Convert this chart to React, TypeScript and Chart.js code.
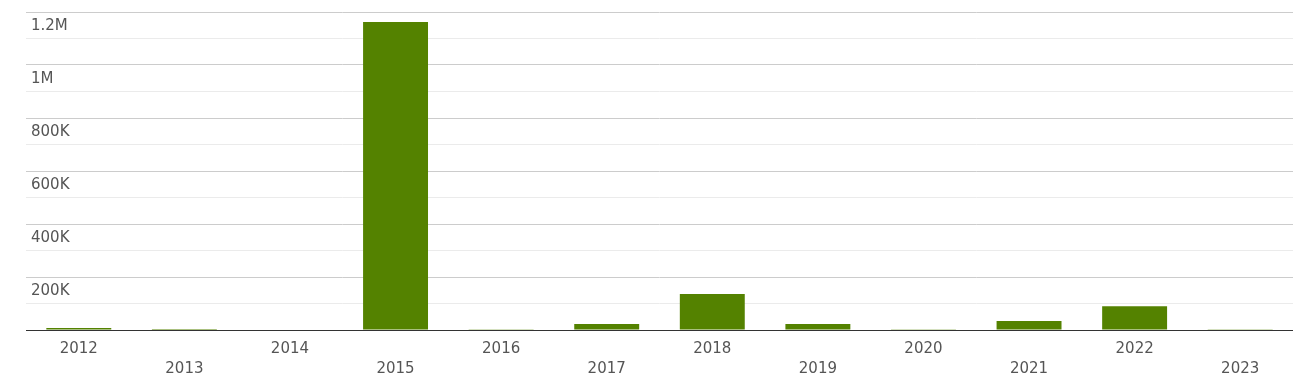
import React, { useEffect, useRef } from "react";
import { Chart, registerables } from "chart.js";

Chart.register(...registerables);

const years = ["2012", "2013", "2014", "2015", "2016", "2017", "2018", "2019", "2020", "2021", "2022", "2023"];
const values = [8000, 4000, 0, 1162000, 3000, 23000, 136000, 23000, 3000, 34000, 90000, 3000];
const yMax = 1200000;
const yStep = 100000;

function formatTick(v: number): string {
  if (v >= 1000000) return (v / 1000000).toString() + "M";
  if (v >= 1000) return (v / 1000).toString() + "K";
  return String(v);
}

export default function App() {
  const ref = useRef<HTMLCanvasElement>(null);
  useEffect(() => {
    if (!ref.current) return;
    const chart = new Chart(ref.current, {
      type: "bar",
      data: {
        labels: years,
        datasets: [
          {
            data: values,
            backgroundColor: "#548200",
            borderWidth: 0,
            categoryPercentage: 1,
            barPercentage: 0.615,
          },
        ],
      },
      options: {
        animation: false,
        responsive: true,
        maintainAspectRatio: false,
        layout: { padding: { left: 26, top: 12, right: 0, bottom: 0 } },
        plugins: { legend: { display: false }, tooltip: { enabled: false } },
        scales: {
          x: {
            grid: { display: false, drawTicks: false },
            border: { display: true, color: "#333", width: 1 },
            ticks: {
              autoSkip: false,
              maxRotation: 0,
              minRotation: 0,
              padding: 9,
              color: "#555",
              font: { family: "DejaVu Sans", size: 15, lineHeight: 20 / 15 },
              callback: (_v: any, i: number) => (i % 2 === 0 ? [years[i]] : ["", years[i]]),
            },
            afterFit: (scale: any) => {
              scale.height = 54;
              scale.paddingLeft = 0;
              scale.paddingRight = 0;
            },
          },
          y: {
            min: 0,
            max: yMax,
            grid: {
              drawTicks: false,
              color: (ctx: any) => {
                const v = ctx.tick ? ctx.tick.value : 0;
                return v % 200000 === 0 ? "#cccccc" : "#ebebeb";
              },
            },
            border: { display: false },
            ticks: {
              stepSize: yStep,
              mirror: true,
              padding: 5,
              labelOffset: 14,
              color: "#555",
              font: { family: "DejaVu Sans", size: 15 },
              callback: (v: any) => {
                const n = Number(v);
                return n > 0 && n % 200000 === 0 ? formatTick(n) : "";
              },
            },
            afterFit: (scale: any) => {
              scale.width = 0;
              scale.paddingTop = 0;
              scale.paddingBottom = 0;
            },
          },
        },
      },
    });
    return () => chart.destroy();
  }, []);
  return (
    <div style={{ position: "fixed", left: 0, top: 0, width: 1293, height: 384 }}>
      <canvas ref={ref} />
    </div>
  );
}
